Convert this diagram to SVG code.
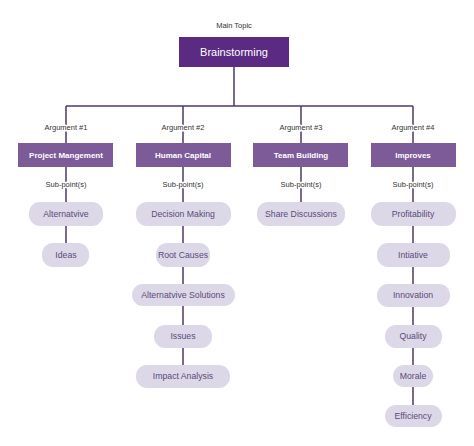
<svg xmlns="http://www.w3.org/2000/svg" width="474" height="446" viewBox="0 0 474 446">
<style>
.lbl{font-family:"Liberation Sans",Arial,sans-serif;font-size:7.5px;fill:#333;text-anchor:middle;dominant-baseline:central;stroke:#fff;stroke-width:3px;paint-order:stroke}
.main{fill:#5b2a82}
.arg{fill:#7d5b99}
.argt{font-family:"Liberation Sans",Arial,sans-serif;font-size:8px;font-weight:bold;fill:#fff;text-anchor:middle;dominant-baseline:central}
.pill{fill:#ddd8e8}
.pt{font-family:"Liberation Sans",Arial,sans-serif;font-size:8.7px;fill:#5a4a7a;text-anchor:middle;dominant-baseline:central}
.ln{stroke:#4d3a66;stroke-width:1.5;fill:none}
</style>
<rect width="474" height="446" fill="#fff"/>
<g id="connectors">
<path class="ln" d="M234 67V106M66 106H413M66 106V143M183 106V143M301 106V143M413 106V143"/>
<path class="ln" d="M66 167V243M183 167V376M301 167V214M413 167V416"/>
</g>
<text class="lbl" x="234" y="25">Main Topic</text>
<g id="main"><rect class="main" x="179" y="37" width="110" height="30"/><text x="234" y="52" font-family="Liberation Sans,Arial,sans-serif" font-size="11px" fill="#fff" text-anchor="middle" dominant-baseline="central">Brainstorming</text></g>
<text class="lbl" x="66" y="127">Argument #1</text>
<text class="lbl" x="183" y="127">Argument #2</text>
<text class="lbl" x="301" y="127">Argument #3</text>
<text class="lbl" x="413" y="127">Argument #4</text>
<g id="a1"><rect class="arg" x="18" y="143" width="95" height="24"/><text class="argt" x="66" y="155">Project Mangement</text></g>
<g id="a2"><rect class="arg" x="136" y="143" width="95" height="24"/><text class="argt" x="183" y="155">Human Capital</text></g>
<g id="a3"><rect class="arg" x="253" y="143" width="95" height="24"/><text class="argt" x="301" y="155">Team Building</text></g>
<g id="a4"><rect class="arg" x="371" y="143" width="85" height="24"/><text class="argt" x="413" y="155">Improves</text></g>
<text class="lbl" x="66" y="184">Sub-point(s)</text>
<text class="lbl" x="183" y="184">Sub-point(s)</text>
<text class="lbl" x="301" y="184">Sub-point(s)</text>
<text class="lbl" x="413" y="184">Sub-point(s)</text>
<g id="p1"><rect class="pill" x="29" y="202" width="74" height="24" rx="11"/><text class="pt" x="66" y="214">Alternatvive</text></g>
<g id="p2"><rect class="pill" x="42" y="243" width="47" height="24" rx="11"/><text class="pt" x="66" y="255">Ideas</text></g>
<g id="p3"><rect class="pill" x="136" y="202" width="95" height="24" rx="11"/><text class="pt" x="183" y="214">Decision Making</text></g>
<g id="p4"><rect class="pill" x="156" y="243" width="54" height="24" rx="11"/><text class="pt" x="183" y="255">Root Causes</text></g>
<g id="p5"><rect class="pill" x="132" y="284" width="103" height="22" rx="11"/><text class="pt" x="183" y="295">Alternatvive Solutions</text></g>
<g id="p6"><rect class="pill" x="154" y="325" width="58" height="23" rx="11"/><text class="pt" x="183" y="336">Issues</text></g>
<g id="p7"><rect class="pill" x="136" y="365" width="94" height="23" rx="11"/><text class="pt" x="183" y="376">Impact Analysis</text></g>
<g id="p8"><rect class="pill" x="257" y="202" width="88" height="24" rx="11"/><text class="pt" x="301" y="214">Share Discussions</text></g>
<g id="p9"><rect class="pill" x="371" y="202" width="85" height="24" rx="11"/><text class="pt" x="413" y="214">Profitability</text></g>
<g id="p10"><rect class="pill" x="377" y="243" width="73" height="24" rx="11"/><text class="pt" x="413" y="255">Intiative</text></g>
<g id="p11"><rect class="pill" x="377" y="284" width="73" height="23" rx="11"/><text class="pt" x="413" y="295">Innovation</text></g>
<g id="p12"><rect class="pill" x="385" y="325" width="57" height="23" rx="11"/><text class="pt" x="413" y="336">Quality</text></g>
<g id="p13"><rect class="pill" x="393" y="365" width="40" height="22" rx="11"/><text class="pt" x="413" y="376">Morale</text></g>
<g id="p14"><rect class="pill" x="385" y="405" width="57" height="22" rx="11"/><text class="pt" x="413" y="416">Efficiency</text></g>
</svg>
